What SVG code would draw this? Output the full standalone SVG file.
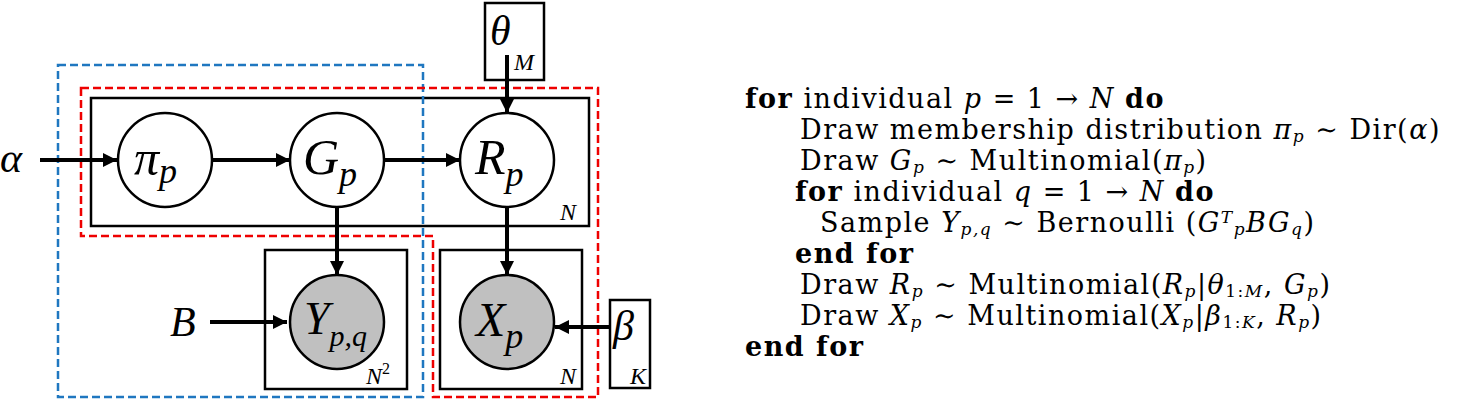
<svg xmlns="http://www.w3.org/2000/svg" width="1466" height="402" viewBox="0 0 1466 402">
<style>
.m{font-family:"Liberation Serif","DejaVu Serif",serif;font-style:italic;fill:#000}
.t{font-family:"DejaVu Serif",serif;font-size:27px;fill:#000;letter-spacing:1.5px}
.b{font-weight:bold}
.i{font-style:italic}
.s{font-size:17px}
.box{fill:none;stroke:#000;stroke-width:2.5}
.nd{fill:#fff;stroke:#000;stroke-width:2.5}
.obs{fill:#c0c0c0;stroke:#000;stroke-width:2.5}
.e{stroke:#000;stroke-width:4;fill:none;marker-end:url(#ah)}
</style>
<defs><marker id="ah" viewBox="0 0 10 10" refX="10" refY="5" markerWidth="3.5" markerHeight="3.5" orient="auto" markerUnits="strokeWidth"><path d="M0,0L10,5L0,10z" fill="#000"/></marker></defs>
<g id="plates">
<rect class="box" x="91" y="98" width="498" height="128"/>
<rect class="box" x="265" y="250" width="142" height="139"/>
<rect class="box" x="440" y="250" width="142" height="139"/>
<rect class="box" x="485" y="3" width="59" height="77"/>
<rect class="box" x="610" y="300" width="40" height="88"/>
<path d="M58,65H423V397H58Z" fill="none" stroke="#1f77c0" stroke-width="2.5" stroke-dasharray="8,4"/>
<path d="M81,88H598V397H433V236H81Z" fill="none" stroke="#e00" stroke-width="2.5" stroke-dasharray="8,4"/>
<text class="m" x="560" y="220" font-size="24">N</text>
<text class="m" x="366" y="384" font-size="24">N<tspan font-size="16" font-style="normal" dy="-10">2</tspan></text>
<text class="m" x="560" y="384" font-size="24">N</text>
</g>
<g id="edges">
<path class="e" d="M40,160H117"/>
<path class="e" d="M212,160H290"/>
<path class="e" d="M384,160H460"/>
<path class="e" d="M507,55V113"/>
<path class="e" d="M337,207V275"/>
<path class="e" d="M507,207V275"/>
<path class="e" d="M210,322H287"/>
<path class="e" d="M610,327H555"/>
</g>
<g id="alpha"><text class="m" x="0" y="172" font-size="42">α</text></g>
<g id="B"><text class="m" x="170" y="336" font-size="42">B</text></g>
<g id="theta"><text class="m" x="490" y="45" font-size="42">θ</text><text class="m" x="514" y="70" font-size="24">M</text></g>
<g id="beta"><text class="m" x="613" y="340" font-size="42">β</text><text class="m" x="630" y="384" font-size="24">K</text></g>
<g id="pi"><circle class="nd" cx="165" cy="160" r="47"/><text class="m" x="134" y="175" font-size="50">π<tspan font-size="36" dy="8">p</tspan></text></g>
<g id="G"><circle class="nd" cx="337" cy="160" r="47"/><text class="m" x="303" y="174" font-size="50">G<tspan font-size="36" dy="12">p</tspan></text></g>
<g id="R"><circle class="nd" cx="507" cy="160" r="47"/><text class="m" x="475" y="174" font-size="50">R<tspan font-size="36" dy="12">p</tspan></text></g>
<g id="Y"><circle class="obs" cx="337" cy="322" r="47"/><text class="m" x="304" y="334" font-size="46">Y<tspan font-size="30" dy="12">p,q</tspan></text></g>
<g id="X"><circle class="obs" cx="507" cy="322" r="47"/><text class="m" x="476" y="336" font-size="48">X<tspan font-size="36" dy="12">p</tspan></text></g>
<g id="algo">
<text class="t" x="745" y="108"><tspan class="b">for</tspan> individual <tspan class="i">p</tspan> = 1 → <tspan class="i">N</tspan> <tspan class="b">do</tspan></text>
<text class="t" x="800" y="139">Draw membership distribution <tspan class="i">π<tspan class="s" dy="3">p</tspan></tspan><tspan dy="-3"> ∼ Dir(</tspan><tspan class="i">α</tspan>)</text>
<text class="t" x="800" y="170">Draw <tspan class="i">G<tspan class="s" dy="3">p</tspan></tspan><tspan dy="-3"> ∼ Multinomial(</tspan><tspan class="i">π<tspan class="s" dy="3">p</tspan></tspan><tspan dy="-3">)</tspan></text>
<text class="t" x="795" y="201"><tspan class="b">for</tspan> individual <tspan class="i">q</tspan> = 1 → <tspan class="i">N</tspan> <tspan class="b">do</tspan></text>
<text class="t" x="820" y="232">Sample <tspan class="i">Y<tspan class="s" dy="3">p,q</tspan></tspan><tspan dy="-3"> ∼ Bernoulli (</tspan><tspan class="i">G</tspan><tspan class="i s" dy="-9">T</tspan><tspan class="i s" dy="12">p</tspan><tspan class="i" dy="-3">BG<tspan class="s" dy="3">q</tspan></tspan><tspan dy="-3">)</tspan></text>
<text class="t b" x="795" y="263">end for</text>
<text class="t" x="800" y="294">Draw <tspan class="i">R<tspan class="s" dy="3">p</tspan></tspan><tspan dy="-3"> ∼ Multinomial(</tspan><tspan class="i">R<tspan class="s" dy="3">p</tspan></tspan><tspan dy="-3">|</tspan><tspan class="i">θ</tspan><tspan class="s" dy="3">1:<tspan class="i">M</tspan></tspan><tspan dy="-3">, </tspan><tspan class="i">G<tspan class="s" dy="3">p</tspan></tspan><tspan dy="-3">)</tspan></text>
<text class="t" x="800" y="325">Draw <tspan class="i">X<tspan class="s" dy="3">p</tspan></tspan><tspan dy="-3"> ∼ Multinomial(</tspan><tspan class="i">X<tspan class="s" dy="3">p</tspan></tspan><tspan dy="-3">|</tspan><tspan class="i">β</tspan><tspan class="s" dy="3">1:<tspan class="i">K</tspan></tspan><tspan dy="-3">, </tspan><tspan class="i">R<tspan class="s" dy="3">p</tspan></tspan><tspan dy="-3">)</tspan></text>
<text class="t b" x="745" y="356">end for</text>
</g>
</svg>
